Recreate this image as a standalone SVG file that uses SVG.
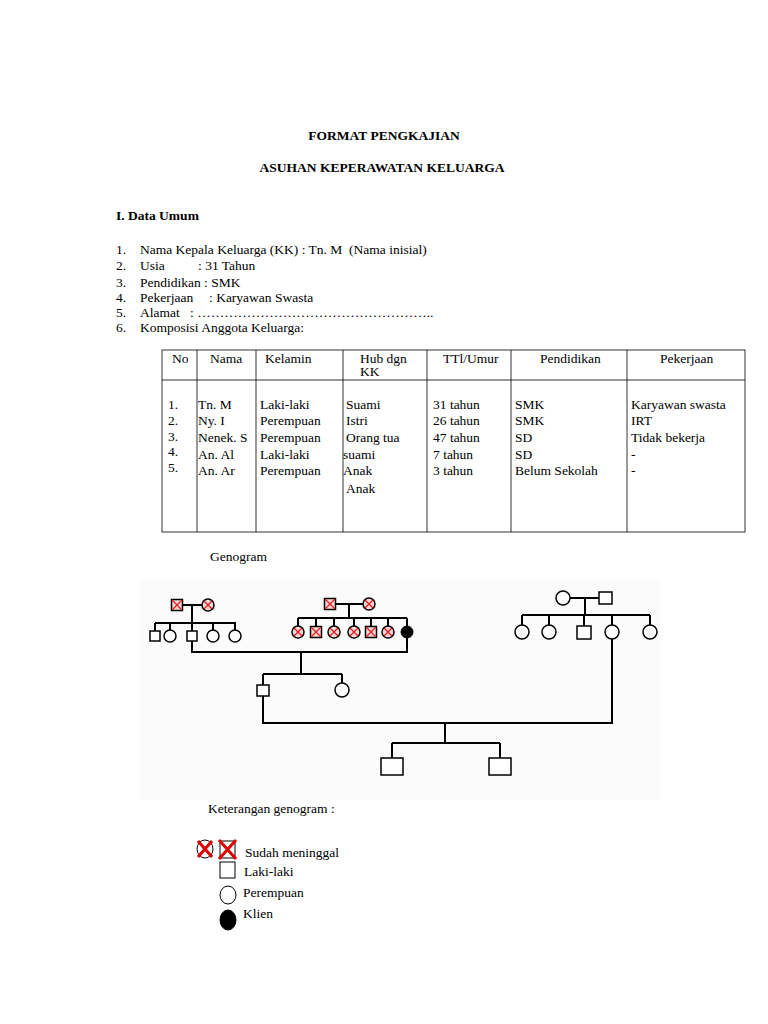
<svg xmlns="http://www.w3.org/2000/svg" width="768" height="1024" viewBox="0 0 768 1024">
<style>
text{font-family:"Liberation Serif",serif;font-size:13.5px;fill:#000;white-space:pre}
.b{font-weight:bold}
.s{fill:#fff;stroke:#000;stroke-width:1.5}
.k{fill:#000;stroke:#000}
.x{stroke:#e02020;stroke-width:1.3;fill:none}
.xl{stroke:#e00000;stroke-width:3;fill:none}
.ln{stroke:#000;stroke-width:2;fill:none}
.t{stroke:#000;stroke-width:0.8;fill:none}
</style>
<defs>
<g id="dsq"><rect class="s" x="-5.5" y="-5.5" width="11" height="11" style="fill:#f6d6d6"/><path class="x" d="M-5,-5L5,5M5,-5L-5,5"/></g>
<g id="dci"><circle class="s" r="6" style="fill:#f6d6d6"/><path class="x" d="M-4,-4L4,4M4,-4L-4,4"/></g>
</defs>
<rect width="768" height="1024" fill="#fff"/>
<text class="b" x="384" y="140" text-anchor="middle">FORMAT PENGKAJIAN</text>
<text class="b" x="382" y="172" text-anchor="middle">ASUHAN KEPERAWATAN KELUARGA</text>
<text class="b" x="116" y="220">I. Data Umum</text>
<g>
<text x="116" y="254">1.</text><text x="140" y="254">Nama Kepala Keluarga (KK) : Tn. M  (Nama inisial)</text>
<text x="116" y="270">2.</text><text x="140" y="270">Usia</text><text x="198" y="270">: 31 Tahun</text>
<text x="116" y="287">3.</text><text x="140" y="287">Pendidikan : SMK</text>
<text x="116" y="302">4.</text><text x="140" y="302">Pekerjaan</text><text x="209" y="302">: Karyawan Swasta</text>
<text x="116" y="317">5.</text><text x="140" y="317">Alamat</text><text x="190" y="317">: ……………………………………………..</text>
<text x="116" y="332">6.</text><text x="140" y="332">Komposisi Anggota Keluarga:</text>
</g>
<g id="table">
<rect class="t" x="162" y="350" width="583" height="182"/>
<path class="t" d="M162,380H745M197,350V532M256,350V532M343,350V532M427,350V532M511,350V532M627,350V532"/>
<text x="172" y="363">No</text><text x="210" y="363">Nama</text><text x="265" y="363">Kelamin</text>
<text x="360" y="363">Hub dgn</text><text x="360" y="376">KK</text>
<text x="443" y="363">TTl/Umur</text><text x="540" y="363">Pendidikan</text><text x="660" y="363">Pekerjaan</text>
<text x="168" y="409">1.</text><text x="168" y="425">2.</text><text x="168" y="441">3.</text><text x="168" y="456">4.</text><text x="168" y="472">5.</text>
<text x="198" y="409">Tn. M</text><text x="198" y="425">Ny. I</text><text x="198" y="442">Nenek. S</text><text x="198" y="459">An. Al</text><text x="198" y="475">An. Ar</text>
<text x="260" y="409">Laki-laki</text><text x="260" y="425">Perempuan</text><text x="260" y="442">Perempuan</text><text x="260" y="459">Laki-laki</text><text x="260" y="475">Perempuan</text>
<text x="346" y="409">Suami</text><text x="346" y="425">Istri</text><text x="346" y="442">Orang tua</text><text x="343" y="459">suami</text><text x="343" y="475">Anak</text><text x="346" y="493">Anak</text>
<text x="433" y="409">31 tahun</text><text x="433" y="425">26 tahun</text><text x="433" y="442">47 tahun</text><text x="433" y="459">7 tahun</text><text x="433" y="475">3 tahun</text>
<text x="515" y="409">SMK</text><text x="515" y="425">SMK</text><text x="515" y="442">SD</text><text x="515" y="459">SD</text><text x="515" y="475">Belum Sekolah</text>
<text x="631" y="409">Karyawan swasta</text><text x="631" y="425">IRT</text><text x="631" y="442">Tidak bekerja</text><text x="631" y="459">-</text><text x="631" y="475">-</text>
</g>
<text x="210" y="561">Genogram</text>
<rect x="140" y="580" width="520" height="220" fill="#fbfbfb"/>
<g id="connectors">
<path class="ln" d="M183,605H202M192,605V623M155,623H236M155,623V631M170,623V630M192,623V631M213,623V630M235,623V630"/>
<path class="ln" d="M192,641V652H407V638M336,604H363M349,604V618M298,618H407M298,618V626M316,618V627M334,618V626M354,618V626M371,618V627M388,618V626M407,618V626"/>
<path class="ln" d="M301,652V674M263,674H342M263,674V685M342,674V683M263,696V723H612V639"/>
<path class="ln" d="M570,598H599M585,598V615M522,615H650M522,615V625M549,615V625M584,615V626M612,615V625M650,615V625"/>
<path class="ln" d="M445,723V743M392,743H500M392,743V758M500,743V758"/>
</g>
<g id="nodes">
<use href="#dsq" x="177" y="605"/><use href="#dci" x="208" y="605"/>
<rect class="s" x="150" y="631" width="10" height="10"/><circle class="s" cx="170" cy="636" r="6"/>
<rect class="s" x="187" y="631" width="10" height="10"/><circle class="s" cx="213" cy="636" r="6"/><circle class="s" cx="235" cy="636" r="6"/>
<use href="#dsq" x="330" y="604"/><use href="#dci" x="369" y="604"/>
<use href="#dci" x="298" y="632"/><use href="#dsq" x="316" y="632"/><use href="#dci" x="334" y="632"/><use href="#dci" x="354" y="632"/><use href="#dsq" x="371" y="632"/><use href="#dci" x="388" y="632"/>
<circle class="k" cx="407" cy="632" r="6"/>
<rect class="s" x="257" y="685" width="12" height="11"/><circle class="s" cx="342" cy="690" r="7"/>
<circle class="s" cx="563" cy="598" r="7"/><rect class="s" x="599" y="592" width="13" height="12"/>
<circle class="s" cx="522" cy="632" r="7"/><circle class="s" cx="549" cy="632" r="7"/><rect class="s" x="577" y="626" width="14" height="13"/><circle class="s" cx="612" cy="632" r="7"/><circle class="s" cx="650" cy="632" r="7"/>
<rect class="s" x="381" y="758" width="22" height="17"/><rect class="s" x="489" y="758" width="22" height="17"/>
</g>
<text x="208" y="813">Keterangan genogram :</text>
<g id="legend">
<ellipse class="s" cx="205" cy="849" rx="8" ry="9" style="stroke-width:1"/><path class="xl" d="M198,841L212,857M212,841L198,857"/>
<rect class="s" x="220" y="841" width="15" height="17" style="stroke-width:1"/><path class="xl" d="M219,840L236,859M236,840L219,859"/>
<text x="245" y="857">Sudah meninggal</text>
<rect class="s" x="220" y="862" width="15" height="16" style="stroke-width:1"/><text x="244" y="876">Laki-laki</text>
<ellipse class="s" cx="228" cy="895" rx="8" ry="9" style="stroke-width:1"/><text x="243" y="897">Perempuan</text>
<ellipse class="k" cx="228" cy="920" rx="8" ry="10"/><text x="243" y="918">Klien</text>
</g>
</svg>
